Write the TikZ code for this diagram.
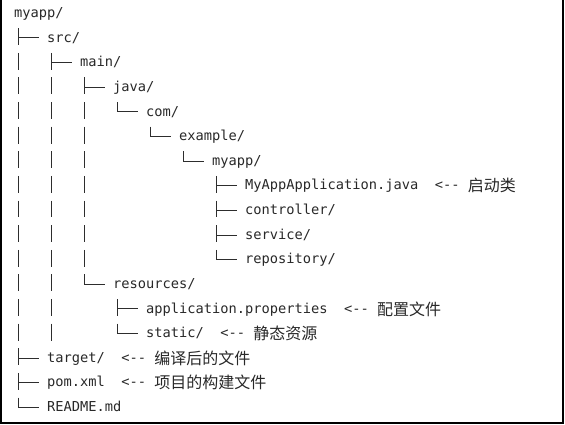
\documentclass[tikz,border=0pt]{standalone}
\usepackage{fontspec}
\setmonofont{DejaVu Sans Mono}
\newfontfamily\cjk{Noto Sans CJK SC}
\definecolor{textcolor}{RGB}{40,40,40}
\definecolor{treecolor}{RGB}{45,45,45}

% one tree glyph, drawn to the left of a named entry
\newcommand\teeline[1]{%
  \draw[treeline] ([xshift=-28.9pt,yshift=14pt]#1.base west) -- ++(0,-16.9pt)
    ([xshift=-28.9pt,yshift=4.2pt]#1.base west) -- ([xshift=-8.5pt,yshift=4.2pt]#1.base west);}
\newcommand\elbowline[1]{%
  \draw[treeline] ([xshift=-28.9pt,yshift=14pt]#1.base west) |- ([xshift=-8.5pt,yshift=4.2pt]#1.base west);}
\newcommand\note[1]{~~<--~{\cjk\fontsize{16}{18}\selectfont\raisebox{-2pt}{#1}}}

\begin{document}
\begin{tikzpicture}[x=1pt, y=1pt,
    entry/.style={anchor=base west, inner sep=0pt, text=textcolor,
                  font=\ttfamily\fontsize{13.7}{16}\selectfont},
    treeline/.style={draw=treecolor, line width=0.9pt},
    frame/.style={draw=black, line width=1.8pt},
]
\useasboundingbox (0,0) rectangle (565,-425);

%% -- entries, one per line --------------------------------------------------
\begin{scope}[shift={(14,-17.5)}, x=8.25pt, y=-24.63pt]
\node[entry] (root) at (0,0) {myapp/};
\node[entry] (src) at (4,1) {src/};
\node[entry] (main) at (8,2) {main/};
\node[entry] (java) at (12,3) {java/};
\node[entry] (com) at (16,4) {com/};
\node[entry] (example) at (20,5) {example/};
\node[entry] (pkg) at (24,6) {myapp/};
\node[entry] (app) at (28,7) {MyAppApplication.java\note{启动类}};
\node[entry] (ctrl) at (28,8) {controller/};
\node[entry] (service) at (28,9) {service/};
\node[entry] (repo) at (28,10) {repository/};
\node[entry] (res) at (12,11) {resources/};
\node[entry] (props) at (16,12) {application.properties\note{配置文件}};
\node[entry] (static) at (16,13) {static/\note{静态资源}};
\node[entry] (target) at (4,14) {target/\note{编译后的文件}};
\node[entry] (pom) at (4,15) {pom.xml\note{项目的构建文件}};
\node[entry] (readme) at (4,16) {README.md};

%% -- pass-through bars ------------------------------------------------------
\foreach \c/\a/\b in {0/2/13, 4/3/13, 8/4/10}
  \foreach \r in {\a,...,\b}
    \draw[treeline] ([yshift=14pt]\c+0.5,\r) -- ([yshift=-2.9pt]\c+0.5,\r);
\end{scope}

%% -- branches ---------------------------------------------------------------
\foreach \n in {src, main, java, app, ctrl, service, props, target, pom}
  {\teeline{\n}}
\foreach \n in {com, example, pkg, repo, res, static, readme}
  {\elbowline{\n}}

%% -- frame (no top edge) ----------------------------------------------------
\draw[frame] (0.6,0) -- (0.6,-422.8) -- (562.6,-422.8) -- (562.6,0);

\end{tikzpicture}
\end{document}
